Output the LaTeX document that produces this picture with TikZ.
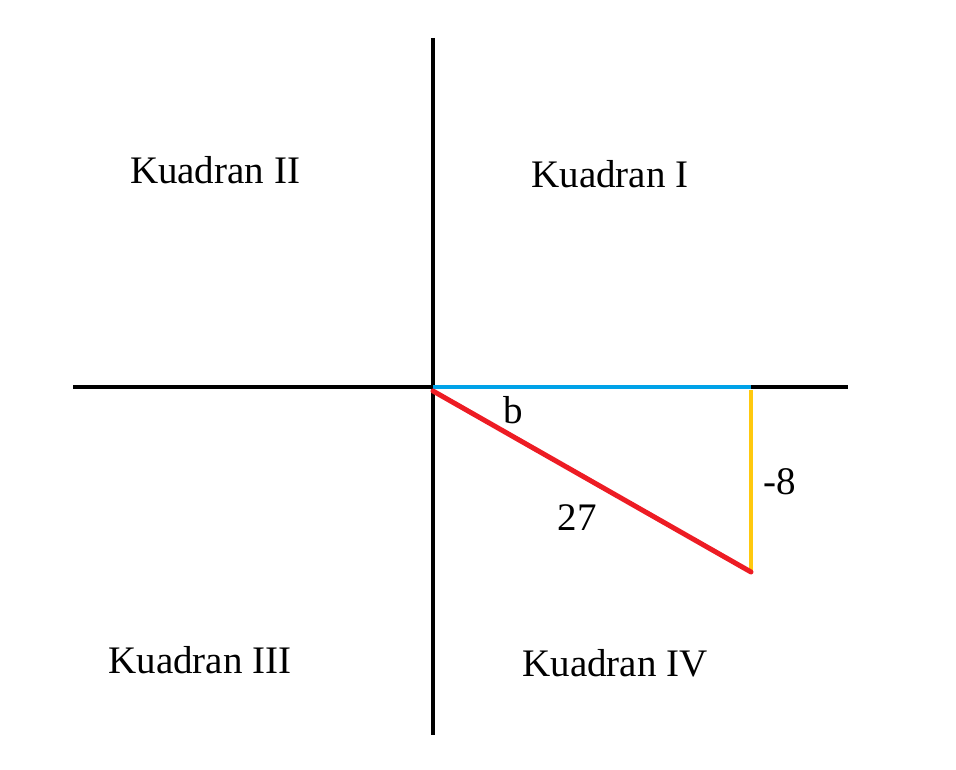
\documentclass[tikz,border=0pt]{standalone}
\usepackage{fontspec}
\setmainfont{Liberation Serif}
\usepackage{xcolor}
\definecolor{paintblue}{RGB}{0,162,232}
\definecolor{paintred}{RGB}{237,28,36}
\definecolor{paintyellow}{RGB}{255,201,14}
\tikzset{
    axis/.style={line width=4pt, black},
    label/.style={inner sep=0pt, font=\fontsize{39}{46}\selectfont}
}
\begin{document}
\begin{tikzpicture}[x=1pt, y=-1pt]
    \useasboundingbox (0,0) rectangle (956,770);
    % axes
    \coordinate (top) at (433,38);
    \coordinate (bottom) at (433,735);
    \coordinate (left) at (73,387);
    \coordinate (right) at (848,387);
    \draw[axis] (top) -- (bottom);
    \draw[axis] (left) -- (right);

    % triangle
    \coordinate (O) at (433,387);
    \coordinate (A) at (751,387);
    \coordinate (B) at (751,572);
    \coordinate (Oh) at (433,391);
    \coordinate (Ay) at (751,390);
    \draw[line width=4pt, paintblue] (O) -- (A);
    \draw[line width=4pt, paintyellow] (Ay) -- (B);
    \draw[line width=5pt, paintred, line cap=round] (Oh) -- (B);

    \node[label] (b) at (513,410) {b};
    \node[label] (hyp) at (577,518) {27};
    \node[label] (y) at (780,482) {-8};

    % quadrants
    \node[label] (q1) at (610,174) {Kuadran I};
    \node[label] (q2) at (215,170) {Kuadran II};
    \node[label] (q3) at (200,660) {Kuadran III};
    \node[label] (q4) at (615,663) {Kuadran IV};
\end{tikzpicture}
\end{document}
